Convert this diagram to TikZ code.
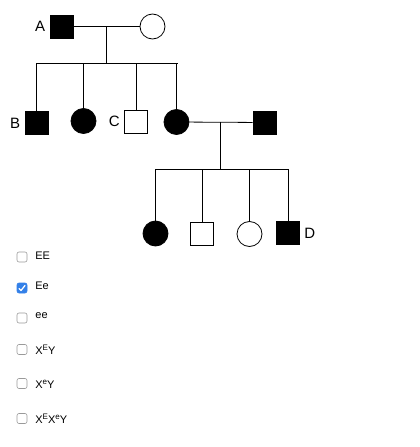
\documentclass[tikz,border=0pt]{standalone}
\usepackage{fontspec}
\setmainfont{Liberation Sans}
\usetikzlibrary{positioning,calc}
\definecolor{tickblue}{HTML}{3380E8}
\definecolor{boxgray}{HTML}{9A9A9A}
\newcommand{\gsup}[1]{\raisebox{0.7ex}{\fontsize{8}{8}\selectfont #1}}

\begin{document}
\begin{tikzpicture}[x=1pt,y=-1pt,
    male/.style={draw, minimum size=23pt, inner sep=0pt, line width=0.8pt},
    female/.style={draw, circle, minimum size=25pt, inner sep=0pt, line width=0.8pt},
    affected/.style={fill=black},
    tag/.style={font=\fontsize{15}{15}\selectfont, inner sep=1pt},
    choice/.style={draw=boxgray, rounded corners=2pt, minimum size=10pt, inner sep=0pt, line width=0.6pt},
    answer/.style={right, font=\fontsize{11}{13}\selectfont, inner sep=1pt},
    every path/.style={line width=0.8pt}]
    \useasboundingbox (0,0) rectangle (420,447);

    % Generation I
    \node[male, affected] (A) at (61.5,26.5) {};
    \node[female] (Iw) at (152.5,26.5) {};
    \node[tag, left=3pt of A] (labA) {A};
    \coordinate (m1) at (106,26.5);
    \coordinate (s1) at (106,63);
    \coordinate (s1L) at (36.5,63);
    \coordinate (s1R) at (178,63);
    \draw (A) -- (Iw);
    \draw (m1) -- (s1);
    \draw (s1L) -- (s1R);

    % Generation II
    \node[male, affected] (B) at (36.5,123) {};
    \node[female, affected] (IIb) at (83.5,121) {};
    \node[male] (C) at (136,121.5) {};
    \node[female, affected] (IId) at (176.5,122) {};
    \node[male, affected] (IIh) at (264.5,122.5) {};
    \node[tag, left=3pt of B] (labB) {B};
    \node[tag, left=3pt of C] (labC) {C};
    \foreach \kid in {B,IIb,C,IId}
        \draw (\kid.north) -- (\kid.north |- s1);
    \draw (IId) -- (IIh);
    \coordinate (m2) at (220,122);
    \coordinate (s2) at (220,169);
    \coordinate (s2L) at (155.5,169);
    \coordinate (s2R) at (289,169);
    \draw (m2) -- (s2);
    \draw (s2L) -- (s2R);

    % Generation III
    \node[female, affected] (IIIa) at (155.5,233.5) {};
    \node[male] (IIIb) at (202,234) {};
    \node[female] (IIIc) at (249.5,234) {};
    \node[male, affected] (D) at (288,233) {};
    \node[tag, right=3pt of D] (labD) {D};
    \foreach \kid in {IIIa,IIIb,IIIc,D}
        \draw (\kid.north) -- (\kid.north |- s2);

    % Answer choices
    \node[choice] (c1) at (22,257) {};
    \node[choice, draw=tickblue, fill=tickblue] (c2) at (22,288) {};
    \node[choice] (c3) at (22,318) {};
    \node[choice] (c4) at (22,349.5) {};
    \node[choice] (c5) at (22,383.5) {};
    \node[choice] (c6) at (22,418.5) {};
    \draw[white, line width=1.3pt, line cap=round, line join=round]
        ($(c2)+(-3,0.5)$) -- ($(c2)+(-1,2.5)$) -- ($(c2)+(3,-2.5)$);
    \node[answer] (t1) at (34,256) {EE};
    \node[answer] (t2) at (34,286) {Ee};
    \node[answer] (t3) at (34,316) {ee};
    \node[answer] (t4) at (34,350) {X\gsup{E}Y};
    \node[answer] (t5) at (34,384) {X\gsup{e}Y};
    \node[answer] (t6) at (34,419) {X\gsup{E}X\gsup{e}Y};
\end{tikzpicture}
\end{document}
